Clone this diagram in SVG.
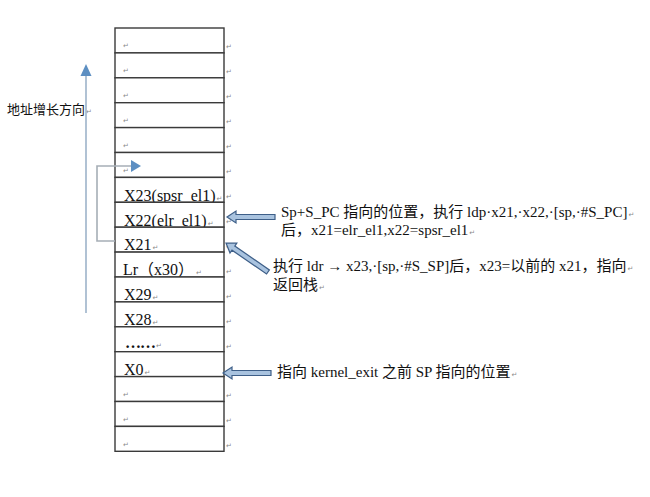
<svg xmlns="http://www.w3.org/2000/svg" width="650" height="497" viewBox="0 0 650 497">
<style>
.cell{fill:#ffffff;stroke:#3a3a3a;stroke-width:1.4}
.lbl{font-family:"Liberation Serif","Noto Sans CJK SC",serif;font-size:16px;fill:#111}
.note{font-family:"Liberation Serif","Noto Sans CJK SC",serif;font-size:15px;fill:#111}
.cjk{font-family:"Noto Sans CJK SC","Liberation Sans",sans-serif;font-size:13px;fill:#111}
.rm{font-family:"DejaVu Sans",sans-serif;font-size:7px;fill:#8a8a8a}
.dot{fill:#9a9a9a}
.blk{fill:#a9c3df;stroke:#3e5f88;stroke-width:1.2}
</style>
<rect width="650" height="497" fill="#ffffff"/>
<g id="stack">
<g id="row1"><rect class="cell" x="115" y="28" width="109" height="24.9"/><text class="rm" x="123" y="48">↵</text><text class="rm" x="226" y="49">↵</text></g>
<g id="row2"><rect class="cell" x="115" y="52.9" width="109" height="24.9"/><text class="rm" x="123" y="73">↵</text><text class="rm" x="226" y="74">↵</text></g>
<g id="row3"><rect class="cell" x="115" y="77.8" width="109" height="24.9"/><text class="rm" x="123" y="98">↵</text><text class="rm" x="226" y="99">↵</text></g>
<g id="row4"><rect class="cell" x="115" y="102.7" width="109" height="24.9"/><text class="rm" x="123" y="123">↵</text><text class="rm" x="226" y="124">↵</text></g>
<g id="row5"><rect class="cell" x="115" y="127.6" width="109" height="24.9"/><text class="rm" x="123" y="148">↵</text><text class="rm" x="226" y="149">↵</text></g>
<g id="row6"><rect class="cell" x="115" y="152.5" width="109" height="24.9"/><text class="rm" x="123" y="173">↵</text><text class="rm" x="226" y="174">↵</text></g>
<g id="row-x23"><rect class="cell" x="115" y="177.4" width="109" height="24.9"/><text class="lbl" x="124" y="200.5">X23(spsr_el1)<tspan class="rm" dx="1">↵</tspan></text><text class="rm" x="226" y="199">↵</text></g>
<g id="row-x22"><rect class="cell" x="115" y="202.3" width="109" height="24.9"/><text class="lbl" x="124" y="225.5">X22(elr_el1)<tspan class="rm" dx="1">↵</tspan></text><text class="rm" x="226" y="224">↵</text></g>
<g id="row-x21"><rect class="cell" x="115" y="227.2" width="109" height="24.9"/><text class="lbl" x="124" y="250.3">X21<tspan class="rm" dx="1">↵</tspan></text><text class="rm" x="226" y="249">↵</text></g>
<g id="row-lr"><rect class="cell" x="115" y="252.1" width="109" height="24.9"/><text class="lbl" x="123" y="275.3">Lr（x30）<tspan class="rm" dx="2">↵</tspan></text><text class="rm" x="226" y="274">↵</text></g>
<g id="row-x29"><rect class="cell" x="115" y="277" width="109" height="24.9"/><text class="lbl" x="124" y="300.2">X29<tspan class="rm" dx="1">↵</tspan></text><text class="rm" x="226" y="299">↵</text></g>
<g id="row-x28"><rect class="cell" x="115" y="301.9" width="109" height="24.9"/><text class="lbl" x="124" y="325">X28<tspan class="rm" dx="1">↵</tspan></text><text class="rm" x="226" y="324">↵</text></g>
<g id="row-dots"><rect class="cell" x="115" y="326.8" width="109" height="24.9"/><text class="lbl" x="125" y="348" font-weight="bold" letter-spacing="-1">……<tspan class="rm" dx="1" font-weight="normal">↵</tspan></text><text class="rm" x="226" y="349">↵</text></g>
<g id="row-x0"><rect class="cell" x="115" y="351.7" width="109" height="24.9"/><text class="lbl" x="124" y="374.5">X0<tspan class="rm" dx="1">↵</tspan></text><text class="rm" x="226" y="374">↵</text></g>
<g id="row15"><rect class="cell" x="115" y="376.6" width="109" height="24.9"/><text class="rm" x="123" y="397">↵</text><text class="rm" x="226" y="398">↵</text></g>
<g id="row16"><rect class="cell" x="115" y="401.5" width="109" height="24.9"/><text class="rm" x="123" y="422">↵</text><text class="rm" x="226" y="423">↵</text></g>
<g id="row17"><rect class="cell" x="115" y="426.4" width="109" height="24.9"/><text class="rm" x="123" y="447">↵</text><text class="rm" x="226" y="448">↵</text></g>
</g>
<g id="label-growth"><text class="cjk" x="7" y="114">地址增长方向<tspan class="rm" dx="1">↵</tspan></text></g>
<g id="note-ldp"><text class="note" x="281" y="217">Sp+S_PC 指向的位置，执行 ldp·x21,·x22,·[sp,·#S_PC]<tspan class="rm" dx="1">↵</tspan></text><text class="note" x="281" y="235">后，x21=elr_el1,x22=spsr_el1<tspan class="rm" dx="1">↵</tspan></text></g>
<g id="note-ldr"><text class="note" x="273" y="271">执行 ldr → x23,·[sp,·#S_SP]后，x23=以前的 x21，指向<tspan class="rm" dx="1">↵</tspan></text><text class="note" x="273" y="290">返回栈<tspan class="rm" dx="1">↵</tspan></text></g>
<g id="note-sp"><text class="note" x="277" y="377">指向 kernel_exit 之前 SP 指向的位置<tspan class="rm" dx="1">↵</tspan></text></g>
<g id="connectors">
<line x1="86" y1="75" x2="86" y2="313" stroke="#9db3ca" stroke-width="1.6"/>
<polygon points="86,64 80.5,76 91.5,76" fill="#5d8fc2"/>
<polyline points="115,241 97,241 97,166 131,166" fill="none" stroke="#a6aeb6" stroke-width="1.6"/>
<polygon points="141,166 131,160 131,172" fill="#5d8fc2"/>
<polygon class="blk" transform="translate(227,217)" points="0,0 9,-6 9,-2.5 48,-2.5 48,2.5 9,2.5 9,6"/>
<polygon class="blk" transform="translate(226,243) rotate(34.6)" points="0,0 9,-6 9,-2.5 51,-2.5 51,2.5 9,2.5 9,6"/>
<polygon class="blk" transform="translate(223,373)" points="0,0 9,-6 9,-2.5 48,-2.5 48,2.5 9,2.5 9,6"/>
</g>
</svg>
